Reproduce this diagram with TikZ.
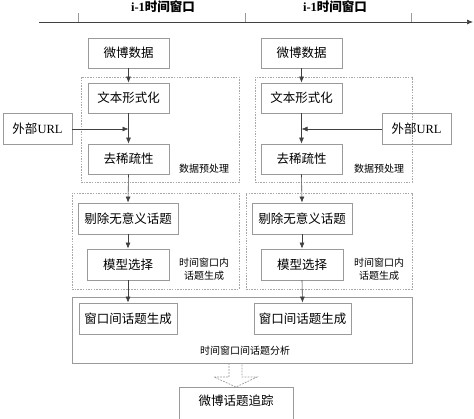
\documentclass[tikz,border=0pt]{standalone}
\usepackage{fontspec}
\setmainfont{Liberation Serif}
\newfontfamily\cjk{Noto Sans CJK SC}
\usetikzlibrary{arrows.meta,calc}
\definecolor{boxgray}{HTML}{9A9A9A}
\definecolor{dashgray}{HTML}{A8A8A8}
\definecolor{linegray}{HTML}{404040}
\tikzset{
  box/.style={draw=boxgray, line width=0.8pt, inner sep=0pt, minimum height=30pt, font=\fontsize{12.5}{14}\selectfont\cjk},
  group/.style={draw=dashgray, line width=0.6pt, dash pattern=on 1.5pt off 1.2pt, inner sep=0pt},
  bigframe/.style={draw=boxgray, line width=0.8pt, inner sep=0pt},
  lbl/.style={font=\fontsize{10}{13}\selectfont\cjk, align=center, inner sep=0pt},
  arr/.style={draw=linegray, line width=0.6pt, -{Latex[length=6pt,width=5pt]}},
  axislbl/.style={font=\fontsize{12.5}{14}\selectfont\bfseries, inner sep=0pt},
  hollow/.style={draw=boxgray, line width=0.7pt, dash pattern=on 1.8pt off 1.2pt, line join=miter},
}
\begin{document}
\begin{tikzpicture}[x=1pt,y=-1pt]
\useasboundingbox (0,0) rectangle (474,418);
% time axis
\coordinate (ax0) at (39,22);
\coordinate (ax1) at (473,22);
\draw[draw=linegray, line width=0.7pt, -{Latex[length=6pt,width=5pt]}] (ax0) -- (ax1);
\coordinate (t1a) at (78,13); \coordinate (t1b) at (78,22);
\coordinate (t2a) at (245,13); \coordinate (t2b) at (245,22);
\coordinate (t3a) at (411,13); \coordinate (t3b) at (411,22);
\draw[draw=boxgray, line width=0.6pt] (t1a) -- (t1b) (t2a) -- (t2b) (t3a) -- (t3b);
\node[axislbl] (w1) at (163,7) {i-1{\cjk 时间窗口}};
\node[axislbl] (w2) at (335,7) {i-1{\cjk 时间窗口}};

% group frames
\node[group, minimum width=158pt, minimum height=105pt] (pre1) at (160,129.5) {};
\node[group, minimum width=157pt, minimum height=105pt] (pre2) at (333.5,129.5) {};
\node[group, minimum width=167pt, minimum height=96pt] (gen1) at (155.5,241) {};
\node[group, minimum width=166pt, minimum height=96pt] (gen2) at (329,241) {};
\node[bigframe, minimum width=340pt, minimum height=66pt] (big) at (242,330) {};

% left column
\node[box, minimum width=81pt] (wb1) at (128.5,53) {微博数据};
\node[box, minimum width=81pt] (tf1) at (128.5,98) {文本形式化};
\node[box, minimum width=81pt] (qx1) at (128.5,159) {去稀疏性};
\node[box, minimum width=69pt, minimum height=31pt] (url1) at (37.5,129) {外部{\rmfamily URL}};
\node[box, minimum width=100pt, minimum height=31pt] (tc1) at (128,218.5) {剔除无意义话题};
\node[box, minimum width=82pt, minimum height=31pt] (mx1) at (128,264.5) {模型选择};
\node[box, minimum width=98pt, minimum height=31pt] (jc1) at (128,318.5) {窗口间话题生成};

% right column
\node[box, minimum width=81pt] (wb2) at (301.5,53) {微博数据};
\node[box, minimum width=81pt] (tf2) at (301.5,98) {文本形式化};
\node[box, minimum width=81pt] (qx2) at (301.5,159) {去稀疏性};
\node[box, minimum width=69pt, minimum height=31pt] (url2) at (416.5,129) {外部{\rmfamily URL}};
\node[box, minimum width=100pt, minimum height=31pt] (tc2) at (302,218.5) {剔除无意义话题};
\node[box, minimum width=82pt, minimum height=31pt] (mx2) at (302,264.5) {模型选择};
\node[box, minimum width=97pt, minimum height=31pt] (jc2) at (302.5,318.5) {窗口间话题生成};

% labels
\node[lbl] (l1) at (204,169) {数据预处理};
\node[lbl] (l2) at (379,169) {数据预处理};
\node[lbl] (l3) at (204,269) {时间窗口内\\话题生成};
\node[lbl] (l4) at (379,269) {时间窗口内\\话题生成};
\node[lbl] (l5) at (245,351) {时间窗口间话题分析};

% bottom box
\node[box, minimum width=114pt, minimum height=40pt, anchor=north] (track) at (236,387) {};
\node[font=\fontsize{12.5}{14}\selectfont\cjk, inner sep=0pt] (tracktxt) at (236,401) {微博话题追踪};

% arrows left
\draw[arr] (wb1.south) -- (tf1.north);
\draw[arr] (tf1.south) -- (qx1.north);
\draw[arr] (url1.east) -- (url1.east -| tf1.south);
\draw[arr] (qx1.south) -- (tc1.north);
\draw[arr] (tc1.south) -- (mx1.north);
\draw[arr] (mx1.south) -- (jc1.north);
% arrows right
\draw[arr] (wb2.south) -- (tf2.north);
\draw[arr] (tf2.south) -- (qx2.north);
\draw[arr] (url2.west) -- (url2.west -| tf2.south);
\draw[arr] (qx2.south) -- (tc2.north);
\draw[arr] (tc2.south) -- (mx2.north);
\draw[arr] (mx2.south) -- (jc2.north);

% hollow dashed arrow from big frame to tracking box
\draw[hollow]
  ($(track.north)+(-7,-24)$) -- ++(0,14) -- ++(-15,0) -- (track.north) -- ++(21,-10) -- ++(-15,0) -- ++(0,-14);
\end{tikzpicture}
\end{document}
